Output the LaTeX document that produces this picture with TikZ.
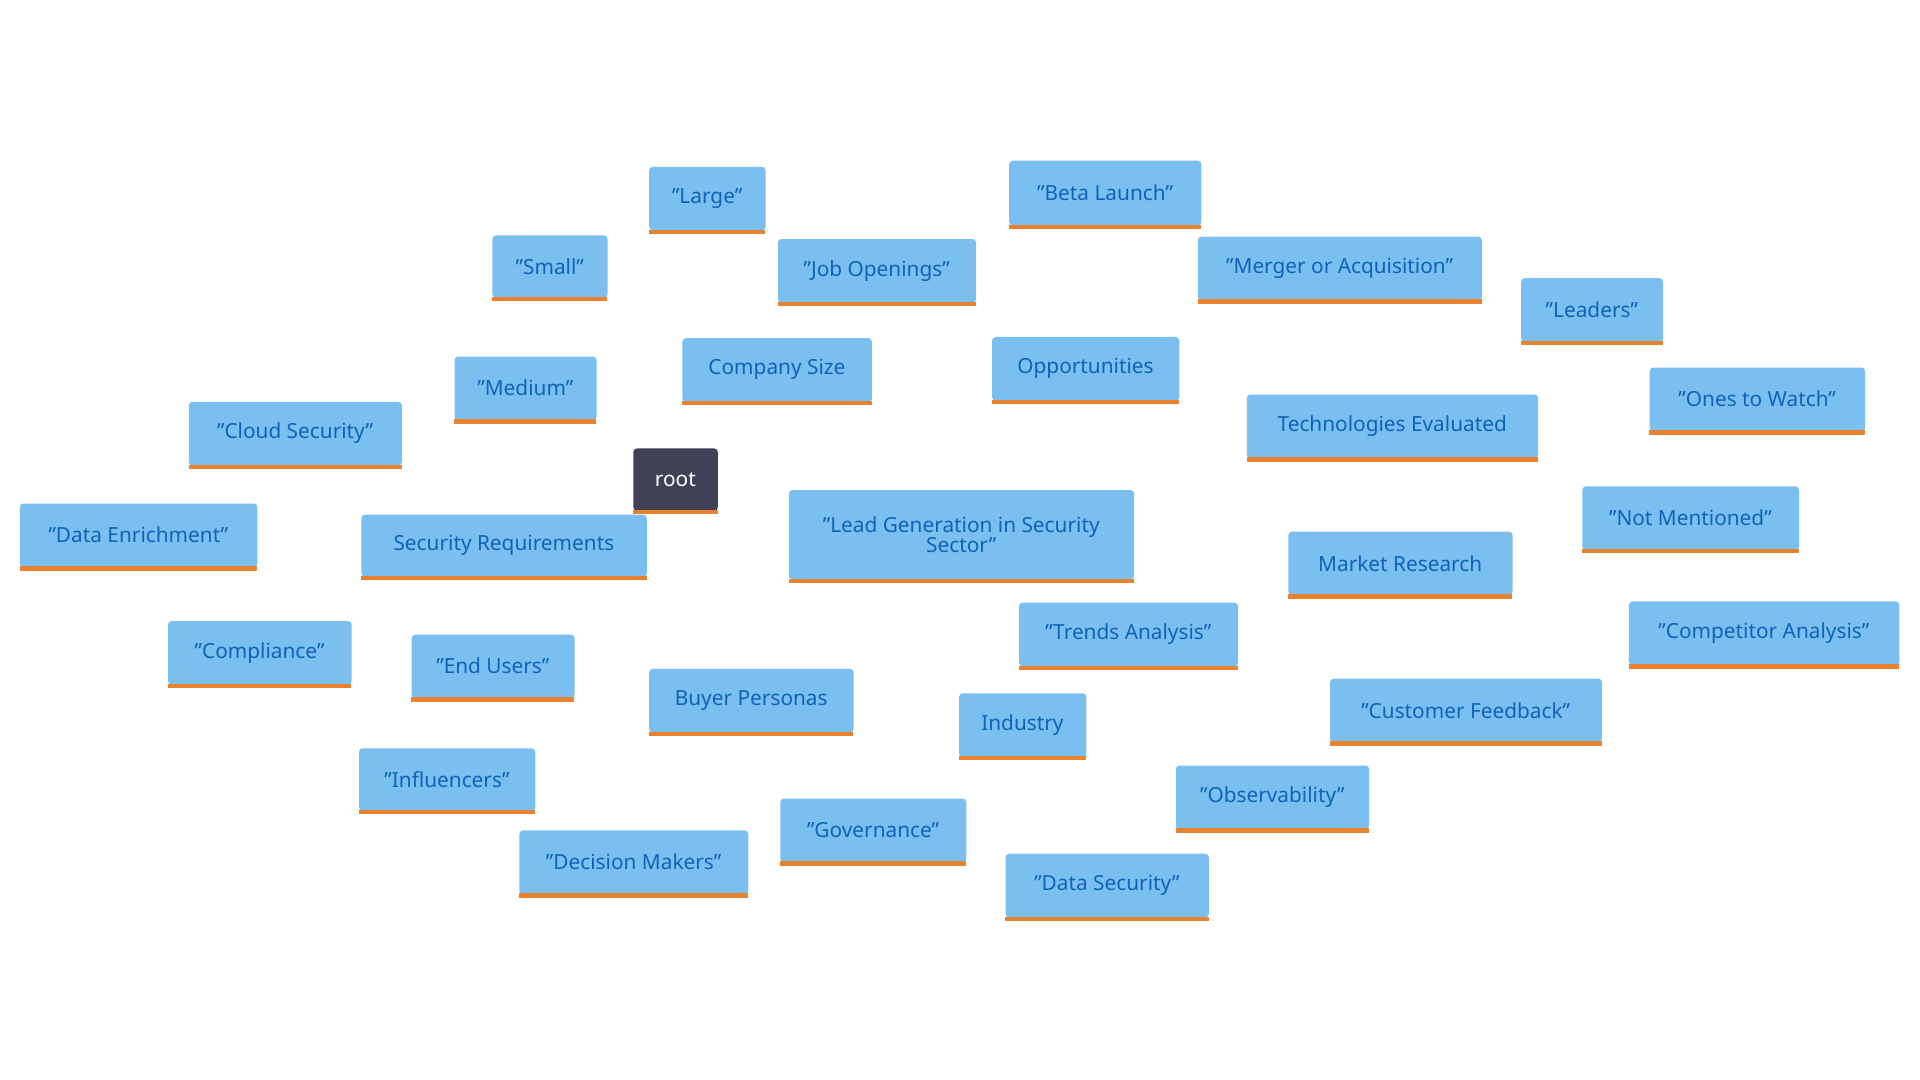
\documentclass[tikz,border=0pt]{standalone}
\usepackage{fontspec}
\setmainfont{Noto Sans}
\usetikzlibrary{backgrounds}
\definecolor{boxfill}{HTML}{7BBEF0}
\definecolor{txt}{HTML}{0F63B8}
\definecolor{edge}{HTML}{7AB8EA}
\definecolor{orng}{HTML}{E8822E}
\definecolor{rootc}{HTML}{3F4257}
\tikzset{box/.style={fill=boxfill,rounded corners=3pt,text=txt,font=\fontsize{17}{18}\selectfont,align=center,inner sep=0pt,anchor=north west},
conn/.style={draw=edge,line width=4pt}}
\newcommand\bx[7][boxfill]{%
\node[box,fill=#1,minimum width={(#5-#3)*1pt},minimum height={(#6-#4-3)*1pt}] (#2) at ({#3},{#4}) {};
\node[box,fill=none,anchor=center] at ({(#3+#5)/2},{(#4+#6-3)/2}) {#7};
\fill[orng] ({#3},{#6-3.5}) rectangle ({#5},{#6});}
\begin{document}
\begin{tikzpicture}[x=1pt,y=-1pt]
\useasboundingbox[fill=white] (0,0) rectangle (1568,882);
\bx[rootc]{root}{517}{366}{586}{420}{\color{white}root}
\bx{c}{644}{400}{926}{476}{"Lead Generation in Security\\[-2pt]Sector"}
\bx{cs}{557}{276}{712}{331}{Company Size}
\bx{op}{810}{275}{963}{330}{Opportunities}
\bx{te}{1018}{322}{1256}{377}{Technologies Evaluated}
\bx{mr}{1052}{434}{1235}{489}{Market Research}
\bx{in}{783}{566}{887}{621}{Industry}
\bx{bp}{530}{546}{697}{601}{Buyer Personas}
\bx{sr}{295}{420}{528}{474}{Security Requirements}
\bx{large}{530}{136}{625}{191}{"Large"}
\bx{small}{402}{192}{496}{246}{"Small"}
\bx{medium}{371}{291}{487}{346}{"Medium"}
\bx{job}{635}{195}{797}{250}{"Job Openings"}
\bx{beta}{824}{131}{981}{187}{"Beta Launch"}
\bx{merger}{978}{193}{1210}{248}{"Merger or Acquisition"}
\bx{leaders}{1242}{227}{1358}{282}{"Leaders"}
\bx{ones}{1347}{300}{1523}{355}{"Ones to Watch"}
\bx{notm}{1292}{397}{1469}{452}{"Not Mentioned"}
\bx{comp}{1330}{491}{1551}{546}{"Competitor Analysis"}
\bx{cust}{1086}{554}{1308}{609}{"Customer Feedback"}
\bx{trend}{832}{492}{1011}{547}{"Trends Analysis"}
\bx{obs}{960}{625}{1118}{680}{"Observability"}
\bx{dsec}{821}{697}{987}{752}{"Data Security"}
\bx{gov}{637}{652}{789}{707}{"Governance"}
\bx{dm}{424}{678}{611}{733}{"Decision Makers"}
\bx{infl}{293}{611}{437}{665}{"Influencers"}
\bx{eu}{336}{518}{469}{573}{"End Users"}
\bx{compl}{137}{507}{287}{562}{"Compliance"}
\bx{de}{16}{411}{210}{466}{"Data Enrichment"}
\bx{cloud}{154}{328}{328}{383}{"Cloud Security"}
\begin{scope}[on background layer]
\foreach \a/\b in {root/c,c/cs,c/op,c/te,c/mr,c/in,c/bp,c/sr,cs/large,cs/small,cs/medium,op/job,op/beta,op/merger,te/leaders,te/ones,te/notm,mr/comp,mr/cust,mr/trend,in/obs,in/dsec,in/gov,bp/dm,bp/infl,bp/eu,sr/compl,sr/de,sr/cloud}
  \draw[conn] (\a.center) -- (\b.center);
\end{scope}
\end{tikzpicture}
\end{document}
